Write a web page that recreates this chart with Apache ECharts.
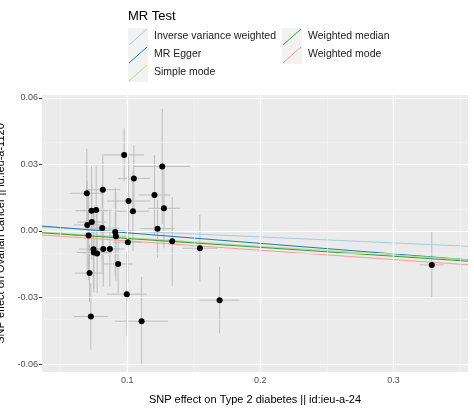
<!DOCTYPE html>
<html>
<head>
<meta charset="utf-8">
<script src="https://cdn.jsdelivr.net/npm/echarts@6/dist/echarts.min.js"></script>
<style>html,body{margin:0;background:#fff}#main{width:474px;height:416px}</style>
</head>
<body>
<div id="main"></div>
<script type="text/javascript">
// SNP estimates: beta exposure, beta outcome, and their standard errors
var bx  = [0.0697,0.070,0.071,0.0717,0.0727,0.0732,0.0734,0.0747,0.075,0.0767,0.0774,0.0812,0.0817,0.082,0.087,0.091,0.0915,0.0932,0.0977,0.0997,0.1005,0.101,0.1043,0.105,0.1108,0.1205,0.1228,0.1263,0.1276,0.1338,0.1546,0.1694,0.3288];
var by  = [0.017,0.0027,-0.002,-0.019,-0.0386,0.0091,0.004,-0.0082,-0.0097,0.0094,-0.0102,0.0013,0.0186,-0.0081,-0.0081,-0.0005,-0.0024,-0.0149,0.0343,-0.0285,-0.0051,0.0135,0.0089,0.0237,-0.0407,0.0162,0.001,0.0291,0.0102,-0.0047,-0.0078,-0.0312,-0.0153];
var sex = [0.0125,0.010,0.012,0.011,0.013,0.012,0.011,0.011,0.013,0.012,0.011,0.013,0.013,0.011,0.011,0.012,0.010,0.011,0.015,0.015,0.011,0.016,0.012,0.012,0.020,0.012,0.013,0.021,0.012,0.009,0.013,0.015,0.009];
var sey = [0.020,0.020,0.020,0.013,0.015,0.020,0.017,0.018,0.018,0.020,0.018,0.020,0.016,0.017,0.017,0.020,0.020,0.013,0.012,0.019,0.018,0.020,0.018,0.015,0.020,0.018,0.013,0.026,0.018,0.020,0.015,0.015,0.015];

// MR method fits: intercept + slope
var methods    = ['Inverse variance weighted','MR Egger','Simple mode','Weighted median','Weighted mode'];
var intercepts = [0.0027, 0.0039, 0.0009, 0.0006, -0.0003];
var slopes     = [-0.027, -0.0475, -0.039, -0.040, -0.042];
var colors     = ['#a6cee3','#1f78b4','#b2df8a','#33a02c','#fb9a99'];

var xTicks = [0.1, 0.2, 0.3];
var yTicks = [-0.06, -0.03, 0, 0.03, 0.06];
var xMinor = [0.05, 0.15, 0.25, 0.35];
var yMinor = [-0.045, -0.015, 0.015, 0.045];

var xMin = 0.036, xMax = 0.356, yMin = -0.0636, yMax = 0.0613;
var font = 'Liberation Sans, Arial, sans-serif';

var chart = echarts.init(document.getElementById('main'));

function gridLines(xs, ys, color, width) {
    return {
        type: 'line', data: [], silent: true,
        markLine: {
            silent: true, symbol: 'none', label: {show: false}, animation: false,
            lineStyle: {color: color, width: width, type: 'solid'},
            data: xs.map(function (v) { return {xAxis: v}; })
                .concat(ys.map(function (v) { return {yAxis: v}; }))
        }
    };
}

var series = [gridLines(xMinor, yMinor, '#f4f4f4', 0.6), gridLines(xTicks, yTicks, '#ffffff', 1.2)];
// error bars
series.push({
    type: 'custom',
    data: bx.map(function (v, i) { return [v, by[i], sex[i], sey[i]]; }),
    renderItem: function (params, api) {
        var x = api.value(0), y = api.value(1), sx = api.value(2), sy = api.value(3);
        var h1 = api.coord([x - sx, y]), h2 = api.coord([x + sx, y]);
        var v1 = api.coord([x, y - sy]), v2 = api.coord([x, y + sy]);
        var st = {stroke: '#bdbdbd', lineWidth: 1};
        return {type: 'group', children: [
            {type: 'line', shape: {x1: h1[0], y1: h1[1], x2: h2[0], y2: h2[1]}, style: st},
            {type: 'line', shape: {x1: v1[0], y1: v1[1], x2: v2[0], y2: v2[1]}, style: st}
        ]};
    },
    clip: true, z: 2
});
series.push({
    type: 'scatter', symbolSize: 6, itemStyle: {color: '#000', opacity: 1},
    data: bx.map(function (v, i) { return [v, by[i]]; }), z: 5
});
methods.forEach(function (m, i) {
    series.push({
        name: m, type: 'line', showSymbol: false, z: 4,
        lineStyle: {color: colors[i], width: 1},
        data: [[xMin, intercepts[i] + slopes[i] * xMin], [xMax, intercepts[i] + slopes[i] * xMax]]
    });
});

// legend drawn as ggplot-style keys
var graphic = [{type: 'text', left: 128, top: 10, style: {text: 'MR Test', font: '13px ' + font, fill: '#000'}}];
var legendPos = [[128, 28], [128, 46], [128, 64], [282, 28], [282, 46]];
methods.forEach(function (m, i) {
    var p = legendPos[i];
    graphic.push({type: 'rect', shape: {x: p[0], y: p[1], width: 20, height: 18}, style: {fill: '#f2f2f2'}});
    graphic.push({type: 'line', shape: {x1: p[0] + 1, y1: p[1] + 17, x2: p[0] + 19, y2: p[1] + 1}, style: {stroke: colors[i], lineWidth: 1}});
    graphic.push({type: 'text', x: p[0] + 26, y: p[1] + 3, style: {text: m, font: '10.5px ' + font, fill: '#1a1a1a'}});
});

chart.setOption({
    animation: false,
    backgroundColor: '#fff',
    grid: {left: 42, right: 6, top: 95, bottom: 44, backgroundColor: '#ebebeb', show: true, borderWidth: 0,
        outerBoundsMode: 'none', containLabel: false},
    graphic: graphic,
    xAxis: {
        type: 'value', min: xMin, max: xMax,
        name: 'SNP effect on Type 2 diabetes || id:ieu-a-24', nameLocation: 'middle', nameGap: 22,
        nameTextStyle: {fontFamily: font, fontSize: 11, color: '#000'},
        axisLine: {show: false},
        axisTick: {show: true, customValues: xTicks, length: 3, lineStyle: {color: '#333'}},
        axisLabel: {customValues: xTicks, fontFamily: font, fontSize: 9, color: '#4d4d4d', margin: 4, formatter: function (v) { return String(v); }},
        splitLine: {show: false}
    },
    yAxis: {
        type: 'value', min: yMin, max: yMax,
        name: 'SNP effect on Ovarian cancer || id:ieu-a-1120', nameLocation: 'middle', nameGap: 28,
        nameTextStyle: {fontFamily: font, fontSize: 11, color: '#000'},
        axisLine: {show: false},
        axisTick: {show: true, customValues: yTicks, length: 3, lineStyle: {color: '#333'}},
        axisLabel: {customValues: yTicks, fontFamily: font, fontSize: 9, color: '#4d4d4d', margin: 4,
            formatter: function (v) { return v === 0 ? '0.00' : v.toFixed(2); }},
        splitLine: {show: false}
    },
    series: series
});
</script>
</body>
</html>
